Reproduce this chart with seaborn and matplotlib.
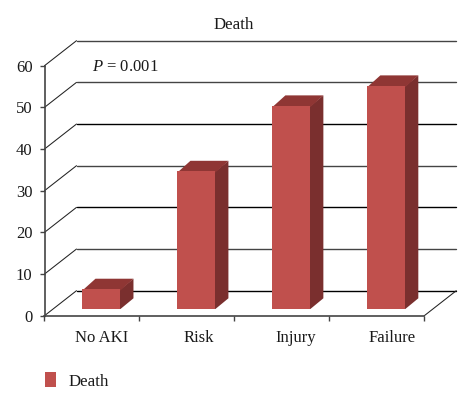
import matplotlib
matplotlib.use('Agg')
import matplotlib.pyplot as plt
import pandas as pd
import seaborn as sns
from matplotlib.patches import Polygon
from matplotlib.transforms import Affine2D, IdentityTransform

categories = ['No AKI', 'Risk', 'Injury', 'Failure']
death = [4.7, 33, 48.7, 53.5]
yticks = [0, 10, 20, 30, 40, 50, 60]
series_name = 'Death'
p_text = '$\\mathit{P}$ = 0.001'

FRONT = '#C0504D'
TOP = '#8F3634'
SIDE = '#7A2F2E'
LINE = '#444444'
TEXT = '#1a1a1a'

sns.set_theme(style='white')
plt.rcParams['font.family'] = ['Liberation Serif', 'DejaVu Serif']
plt.rcParams['mathtext.fontset'] = 'custom'
plt.rcParams['mathtext.it'] = 'Liberation Serif:italic'
plt.rcParams['mathtext.rm'] = 'Liberation Serif'

df = pd.DataFrame({'group': categories, 'value': death})

W, H = 474, 408
fig = plt.figure(figsize=(W / 100, H / 100), dpi=100)
ax = fig.add_axes([44.5 / W, (H - 315.7) / H, 379.8 / W, 250 / H])

sns.barplot(data=df, x='group', y='value', color=FRONT, saturation=1, width=0.4,
            linewidth=0, label=series_name, ax=ax, zorder=6)
ax.set_xlim(-0.5, 3.5)
ax.set_ylim(0, 60)

# pixel offsets of the fake 3d: bars stand in the middle of the floor
wall = Affine2D().translate(32, 25)
plane = Affine2D().translate(9.5, 6.7)
dx, dy = 13, 10.7

to_px = ax.transData.transform
for v in yticks:
    c = 'black' if v in (0, 20, 40) else LINE
    ax.plot([-0.5, 3.5], [v, v], color=c, lw=1, transform=ax.transData + wall, clip_on=False, zorder=1)
    x0, y0 = to_px((-0.5, v))
    ax.plot([x0, x0 + 32], [y0, y0 + 25], color='#222222', lw=0.75, transform=IdentityTransform(),
            clip_on=False, zorder=1)
x0, y0 = to_px((3.5, 0))
ax.plot([x0, x0 + 32], [y0, y0 + 25], color='#222222', lw=0.75, transform=IdentityTransform(),
        clip_on=False, zorder=1)

# front faces come from seaborn, top and side are built off them
for bar in ax.patches:
    bar.set_transform(ax.transData + plane)
    bar.set_clip_on(False)
    x, w, h = bar.get_x(), bar.get_width(), bar.get_height()
    lx, by = (ax.transData + plane).transform((x, 0))
    rx, ty = (ax.transData + plane).transform((x + w, h))
    side = [(rx - 1, by), (rx, by), (rx + dx, by + dy), (rx + dx, ty + dy), (rx, ty), (rx - 1, ty)]
    top = [(lx, ty - 1), (rx, ty - 1), (rx + dx, ty + dy), (lx + dx, ty + dy)]
    ax.add_patch(Polygon(side, color=SIDE, lw=0, transform=IdentityTransform(), clip_on=False, zorder=5))
    ax.add_patch(Polygon(top, color=TOP, lw=0, transform=IdentityTransform(), clip_on=False, zorder=5))

sns.despine(ax=ax)
for s in ['left', 'bottom']:
    ax.spines[s].set_color(LINE)
    ax.spines[s].set_linewidth(1.2)
    ax.spines[s].set_zorder(2)

ax.set_xlabel('')
ax.set_ylabel('')
ax.set_yticks(yticks)
ax.set_xticks([-0.5, 0.5, 1.5, 2.5, 3.5], minor=False, labels=[])
ax.tick_params(axis='both', which='major', left=True, bottom=True, length=3.6, width=1, color=LINE)
ax.tick_params(axis='y', labelsize=12, pad=5, labelcolor=TEXT)
for i, name in enumerate(categories):
    # labels drift a little right of the bars in the original
    ax.annotate(name, xy=(i, 0), xytext=(10 + 1.7 * i, -22), xycoords='data', textcoords='offset pixels',
                ha='center', va='center', fontsize=12, color=TEXT)

fig.text(234 / W, (H - 25) / H, series_name, ha='center', va='center', fontsize=12.2, color=TEXT)
fig.text(92 / W, (H - 67) / H, p_text, ha='left', va='center', fontsize=12, color=TEXT)

ax.legend(loc='center left', bbox_to_anchor=(44.5 / W, (H - 381) / H), bbox_transform=fig.transFigure,
          frameon=False, fontsize=12.2, handlelength=0.7, handleheight=0.95, handletextpad=0.74,
          borderpad=0, borderaxespad=0, labelcolor=TEXT)

fig.savefig('out.png', dpi=100)
